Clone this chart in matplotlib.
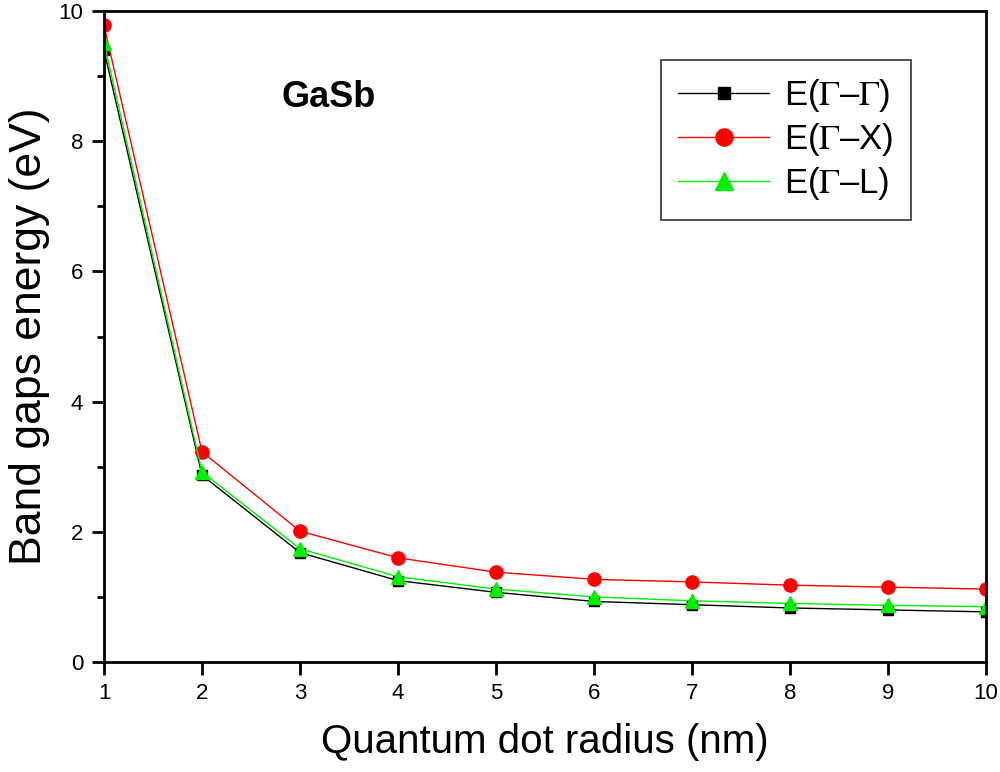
import numpy as np
import matplotlib
matplotlib.use("Agg")
import matplotlib.pyplot as plt
from matplotlib.ticker import MultipleLocator

plt.rcParams['font.family'] = ['Liberation Sans', 'DejaVu Sans']
plt.rcParams['mathtext.fontset'] = 'stix'

radius = [1, 2, 3, 4, 5, 6, 7, 8, 9, 10]  # nm
E_GG = [9.40, 2.87, 1.68, 1.25, 1.07, 0.93, 0.88, 0.83, 0.80, 0.77]
E_GX = [9.78, 3.23, 2.01, 1.60, 1.38, 1.27, 1.23, 1.18, 1.15, 1.12]
E_GL = [9.51, 2.92, 1.74, 1.31, 1.12, 1.00, 0.94, 0.90, 0.87, 0.85]

fig = plt.figure(figsize=(10, 7.72), dpi=100)
ax = fig.add_axes([0.104, 0.1425, 0.882, 0.8432])

ax.plot(radius, E_GG, color='k', lw=1.0, marker='s', ms=7, mec='k', label=r'E($\Gamma$–$\Gamma$)')
ax.plot(radius, E_GX, color='#ff0000', lw=1.0, marker='o', ms=9.5, mec='#ff0000', label=r'E($\Gamma$–X)')
ax.plot(radius, E_GL, color='#00ee00', lw=1.0, marker='^', ms=9.5, mec='#00ee00', label=r'E($\Gamma$–L)')

ax.set_xlim(1, 10)
ax.set_ylim(0, 10)
ax.xaxis.set_major_locator(MultipleLocator(1))
ax.yaxis.set_major_locator(MultipleLocator(2))
ax.yaxis.set_minor_locator(MultipleLocator(1))
ax.tick_params(axis='both', which='major', direction='out', length=9, width=2, labelsize=16, pad=6)
ax.tick_params(axis='y', which='minor', direction='out', length=5, width=2)
for s in ax.spines.values():
    s.set_linewidth(2)

ax.set_xlabel('Quantum dot radius (nm)', fontsize=29, labelpad=14)
ax.set_ylabel('Band gaps energy (eV)', fontsize=32, labelpad=6)

ax.text(2.81, 8.53, 'GaSb', fontsize=26, fontweight='bold')

leg = fig.legend(loc='upper left', bbox_to_anchor=(0.661, 1 - 60 / 772), fontsize=25, frameon=True,
                 fancybox=False, edgecolor='k', handlelength=2.6, borderpad=0.5, labelspacing=0.2,
                 handletextpad=0.45, borderaxespad=0, markerscale=1.3)
leg.get_frame().set_linewidth(1.2)

fig.savefig('out.png', dpi=100)
